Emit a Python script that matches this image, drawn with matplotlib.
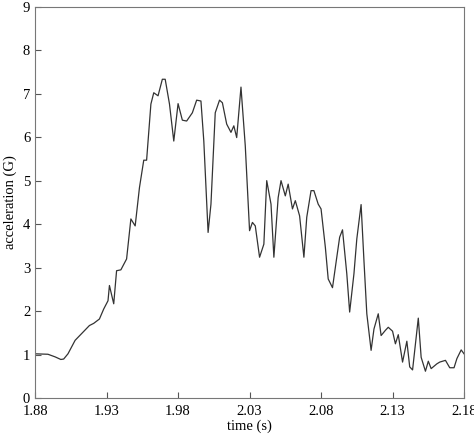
import matplotlib

matplotlib.use('Agg')
import matplotlib.pyplot as plt

# acceleration trace (time in s, acceleration in G)
time_s = [1.880, 1.889, 1.894, 1.898, 1.900, 1.903, 1.908, 1.913, 1.918, 1.921,
          1.925, 1.928, 1.931, 1.932, 1.935, 1.937, 1.940, 1.944, 1.947, 1.950,
          1.953, 1.956, 1.958, 1.961, 1.963, 1.966, 1.969, 1.971, 1.974, 1.977,
          1.980, 1.983, 1.986, 1.990, 1.993, 1.996, 1.998, 2.001, 2.003, 2.006,
          2.009, 2.011, 2.014, 2.017, 2.019, 2.021, 2.024, 2.027, 2.030, 2.032,
          2.034, 2.037, 2.040, 2.042, 2.045, 2.047, 2.050, 2.052, 2.055, 2.057,
          2.060, 2.062, 2.065, 2.068, 2.070, 2.073, 2.075, 2.078, 2.080, 2.083,
          2.085, 2.088, 2.091, 2.093, 2.095, 2.098, 2.100, 2.103, 2.105, 2.108,
          2.110, 2.112, 2.115, 2.117, 2.120, 2.122, 2.125, 2.127, 2.130, 2.132,
          2.134, 2.137, 2.140, 2.142, 2.144, 2.148, 2.150, 2.153, 2.155, 2.157,
          2.161, 2.163, 2.167, 2.170, 2.173, 2.175, 2.178, 2.180]
accel_g = [1.02, 1.01, 0.95, 0.89, 0.90, 1.02, 1.33, 1.50, 1.67, 1.72,
           1.82, 2.05, 2.24, 2.59, 2.17, 2.93, 2.95, 3.20, 4.12, 3.96,
           4.84, 5.47, 5.47, 6.76, 7.02, 6.95, 7.33, 7.33, 6.76, 5.91,
           6.77, 6.39, 6.37, 6.56, 6.85, 6.83, 5.91, 3.81, 4.46, 6.56,
           6.85, 6.79, 6.30, 6.11, 6.26, 5.99, 7.15, 5.80, 3.85, 4.04,
           3.96, 3.24, 3.54, 5.00, 4.46, 3.24, 4.61, 5.00, 4.65, 4.92,
           4.35, 4.54, 4.19, 3.24, 4.16, 4.77, 4.77, 4.46, 4.35, 3.47,
           2.74, 2.54, 3.24, 3.70, 3.87, 2.86, 1.98, 2.86, 3.66, 4.45,
           3.16, 1.94, 1.10, 1.59, 1.94, 1.44, 1.56, 1.63, 1.54, 1.25,
           1.46, 0.83, 1.31, 0.72, 0.65, 1.84, 0.94, 0.62, 0.85, 0.68,
           0.79, 0.83, 0.87, 0.70, 0.70, 0.91, 1.11, 1.02]
x_ticks = [1.88, 1.93, 1.98, 2.03, 2.08, 2.13, 2.18]
y_ticks = list(range(10))

plt.rcParams['font.family'] = ['Liberation Serif', 'DejaVu Serif']

fig = plt.figure(figsize=(4.74, 4.4), dpi=100)
ax = fig.add_axes([0.074, 0.095, 0.905, 0.89])
ax.plot(time_s, accel_g, color='#333333', linewidth=0.9)

ax.set_xlim(1.88, 2.18)
ax.set_ylim(0, 9)
ax.set_xticks(x_ticks)
ax.set_xticklabels([f'{t:.2f}' for t in x_ticks])
ax.set_yticks(y_ticks)
ax.tick_params(direction='in', length=4, labelsize=10.5, color='#555555')
ax.tick_params(axis='x', pad=5)
for s in ax.spines.values():
    s.set_color('#777777')

ax.set_xlabel('time (s)', fontsize=10.5, labelpad=1)
ax.set_ylabel('acceleration (G)', fontsize=10.5, labelpad=4)

fig.savefig('out.png', dpi=100)
plt.close()
